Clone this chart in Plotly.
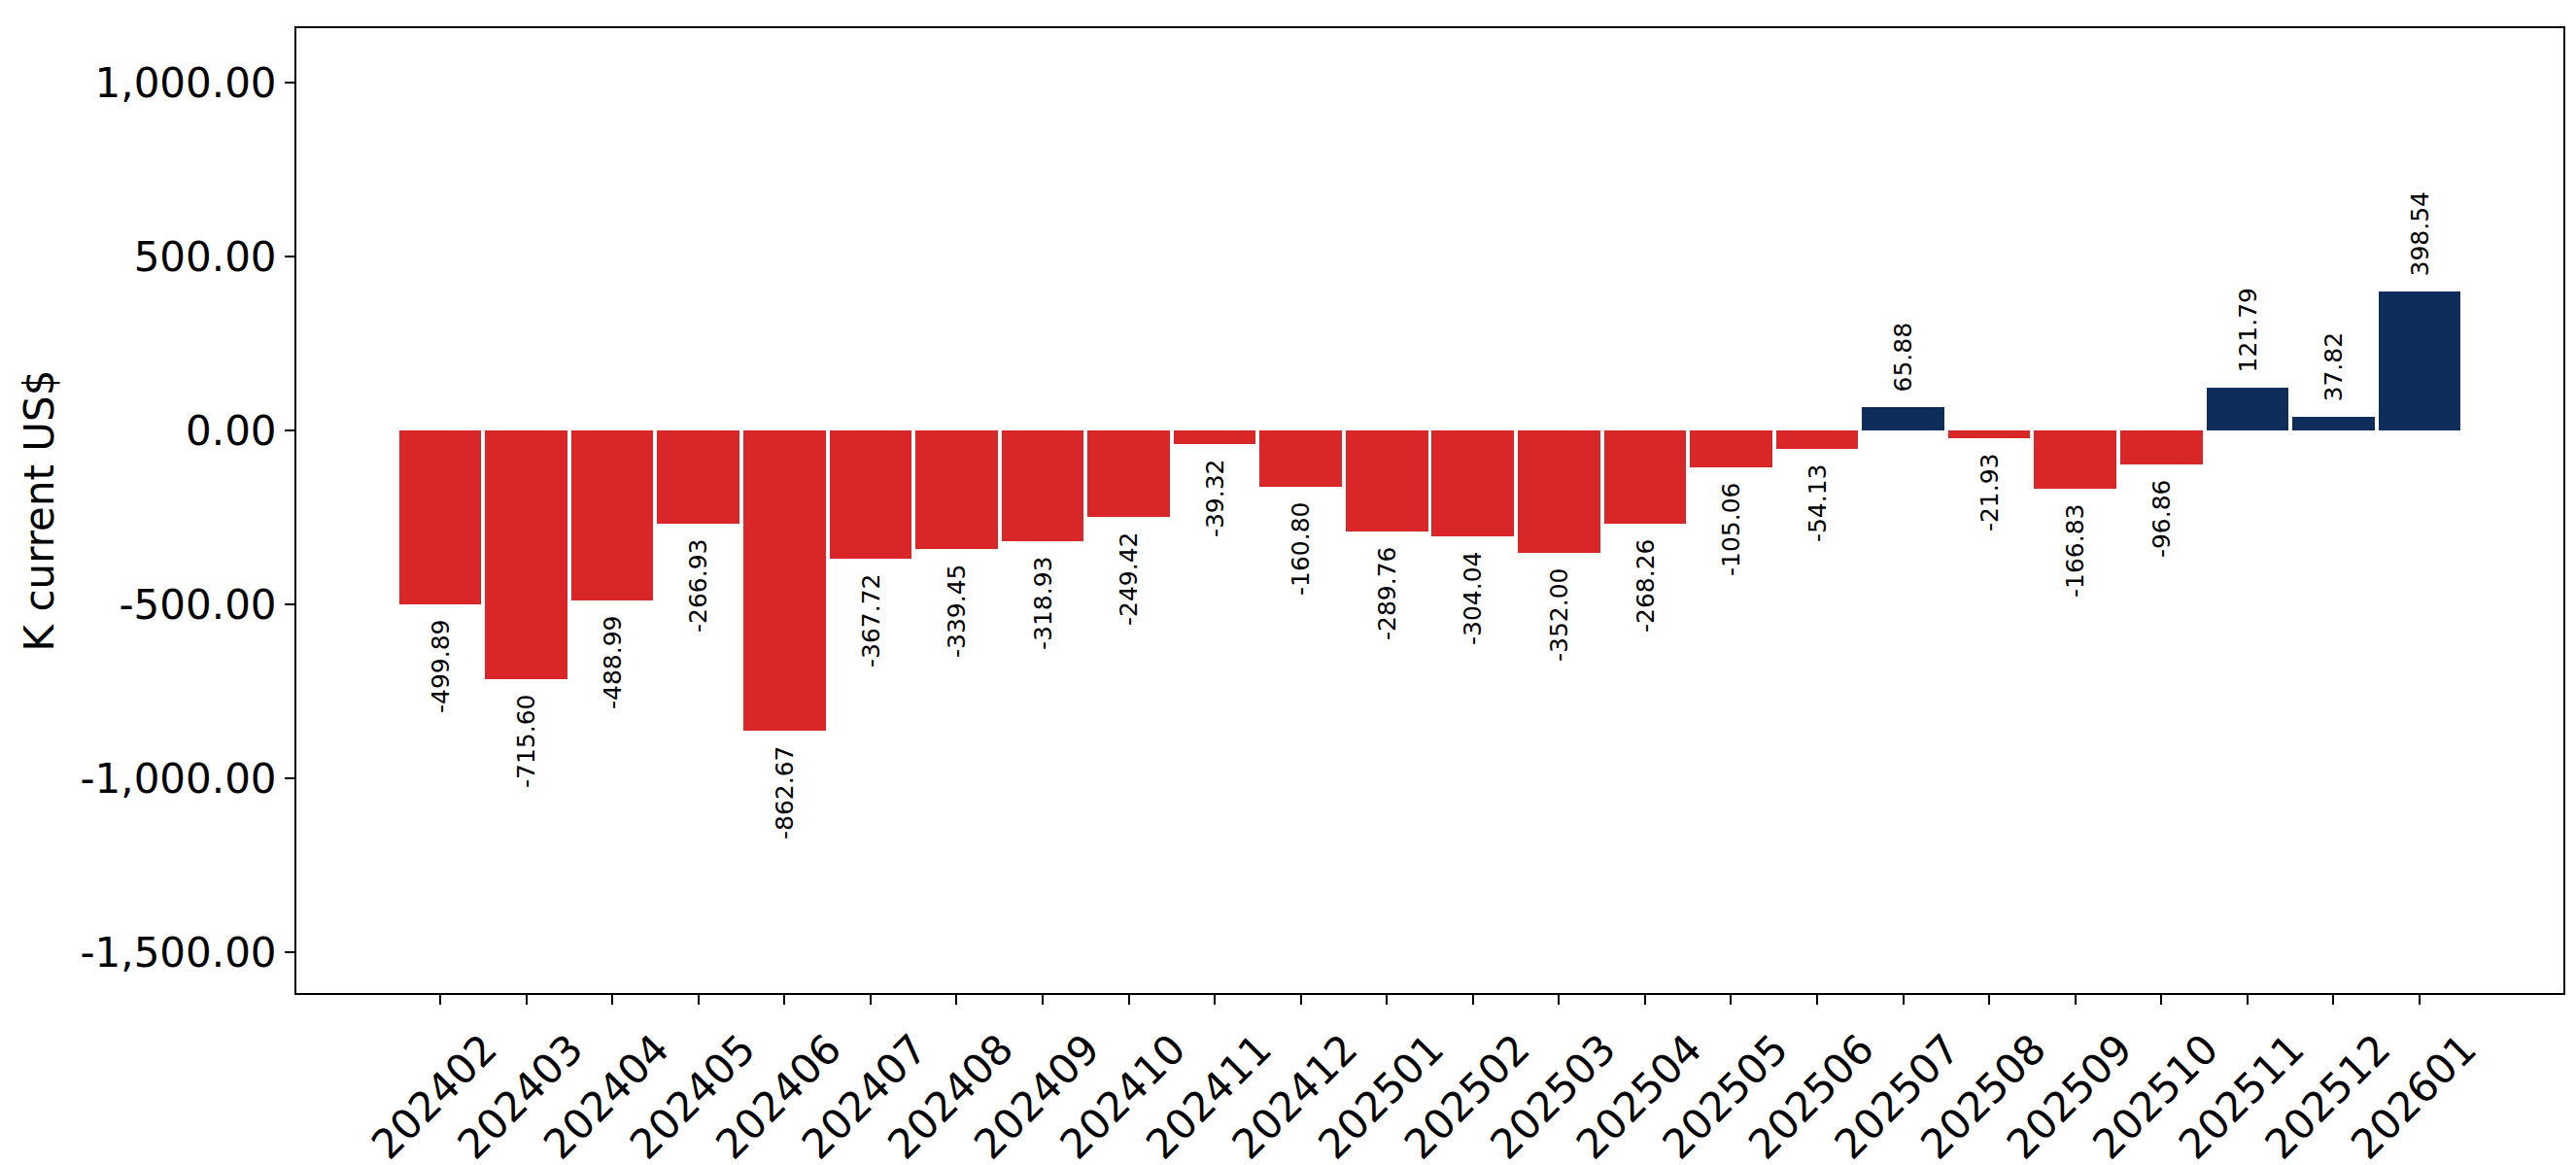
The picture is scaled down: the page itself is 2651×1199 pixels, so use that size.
import plotly.graph_objects as go

months = ["202402", "202403", "202404", "202405", "202406", "202407", "202408",
          "202409", "202410", "202411", "202412", "202501", "202502", "202503",
          "202504", "202505", "202506", "202507", "202508", "202509", "202510",
          "202511", "202512", "202601"]
values = [-499.89, -715.60, -488.99, -266.93, -862.67, -367.72, -339.45,
          -318.93, -249.42, -39.32, -160.80, -289.76, -304.04, -352.00,
          -268.26, -105.06, -54.13, 65.88, -21.93, -166.83, -96.86,
          121.79, 37.82, 398.54]
y_ticks = [-1500, -1000, -500, 0, 500, 1000]
y_tick_text = [f"{v:,.2f}" for v in y_ticks]

RED = "#d92628"
NAVY = "#0e2d5b"
colors = [NAVY if v >= 0 else RED for v in values]
PAD = "\u2002"
labels = [(PAD + f"{v:.2f}") if v >= 0 else (f"{v:.2f}" + PAD) for v in values]

FONT = "DejaVu Sans"

fig = go.Figure(go.Bar(
    x=months,
    y=values,
    width=0.955,
    marker=dict(color=colors, line=dict(width=0)),
    text=labels,
    textposition="outside",
    textangle=-90,
    constraintext="none",
    cliponaxis=False,
    textfont=dict(family=FONT, size=25, color="black"),
))

fig.update_layout(
    width=2651,
    height=1199,
    margin=dict(l=297, r=21, t=21, b=185),
    paper_bgcolor="white",
    plot_bgcolor="white",
    showlegend=False,
    font=dict(family=FONT, color="black"),
    bargap=0,
)

fig.update_xaxes(
    type="category",
    range=[-1.671, 24.671],
    tickangle=-45,
    tickfont=dict(family=FONT, size=42, color="black"),
    ticks="outside",
    ticklen=10,
    tickwidth=2,
    tickcolor="black",
    showline=True,
    linecolor="black",
    linewidth=2,
    mirror=True,
    showgrid=False,
    zeroline=False,
    ticklabelshift=46,
    ticklabelstandoff=4,
    automargin=False,
)

fig.update_yaxes(
    range=[-1617, 1156],
    tickmode="array",
    tickvals=y_ticks,
    ticktext=y_tick_text,
    tickfont=dict(family=FONT, size=42, color="black"),
    ticks="outside",
    ticklen=10,
    tickwidth=2,
    tickcolor="black",
    showline=True,
    linecolor="black",
    linewidth=2,
    mirror=True,
    showgrid=False,
    zeroline=False,
    title=dict(text="K current US$", font=dict(family=FONT, size=42, color="black"), standoff=14),
    automargin=False,
)

fig.write_html("out.html")
